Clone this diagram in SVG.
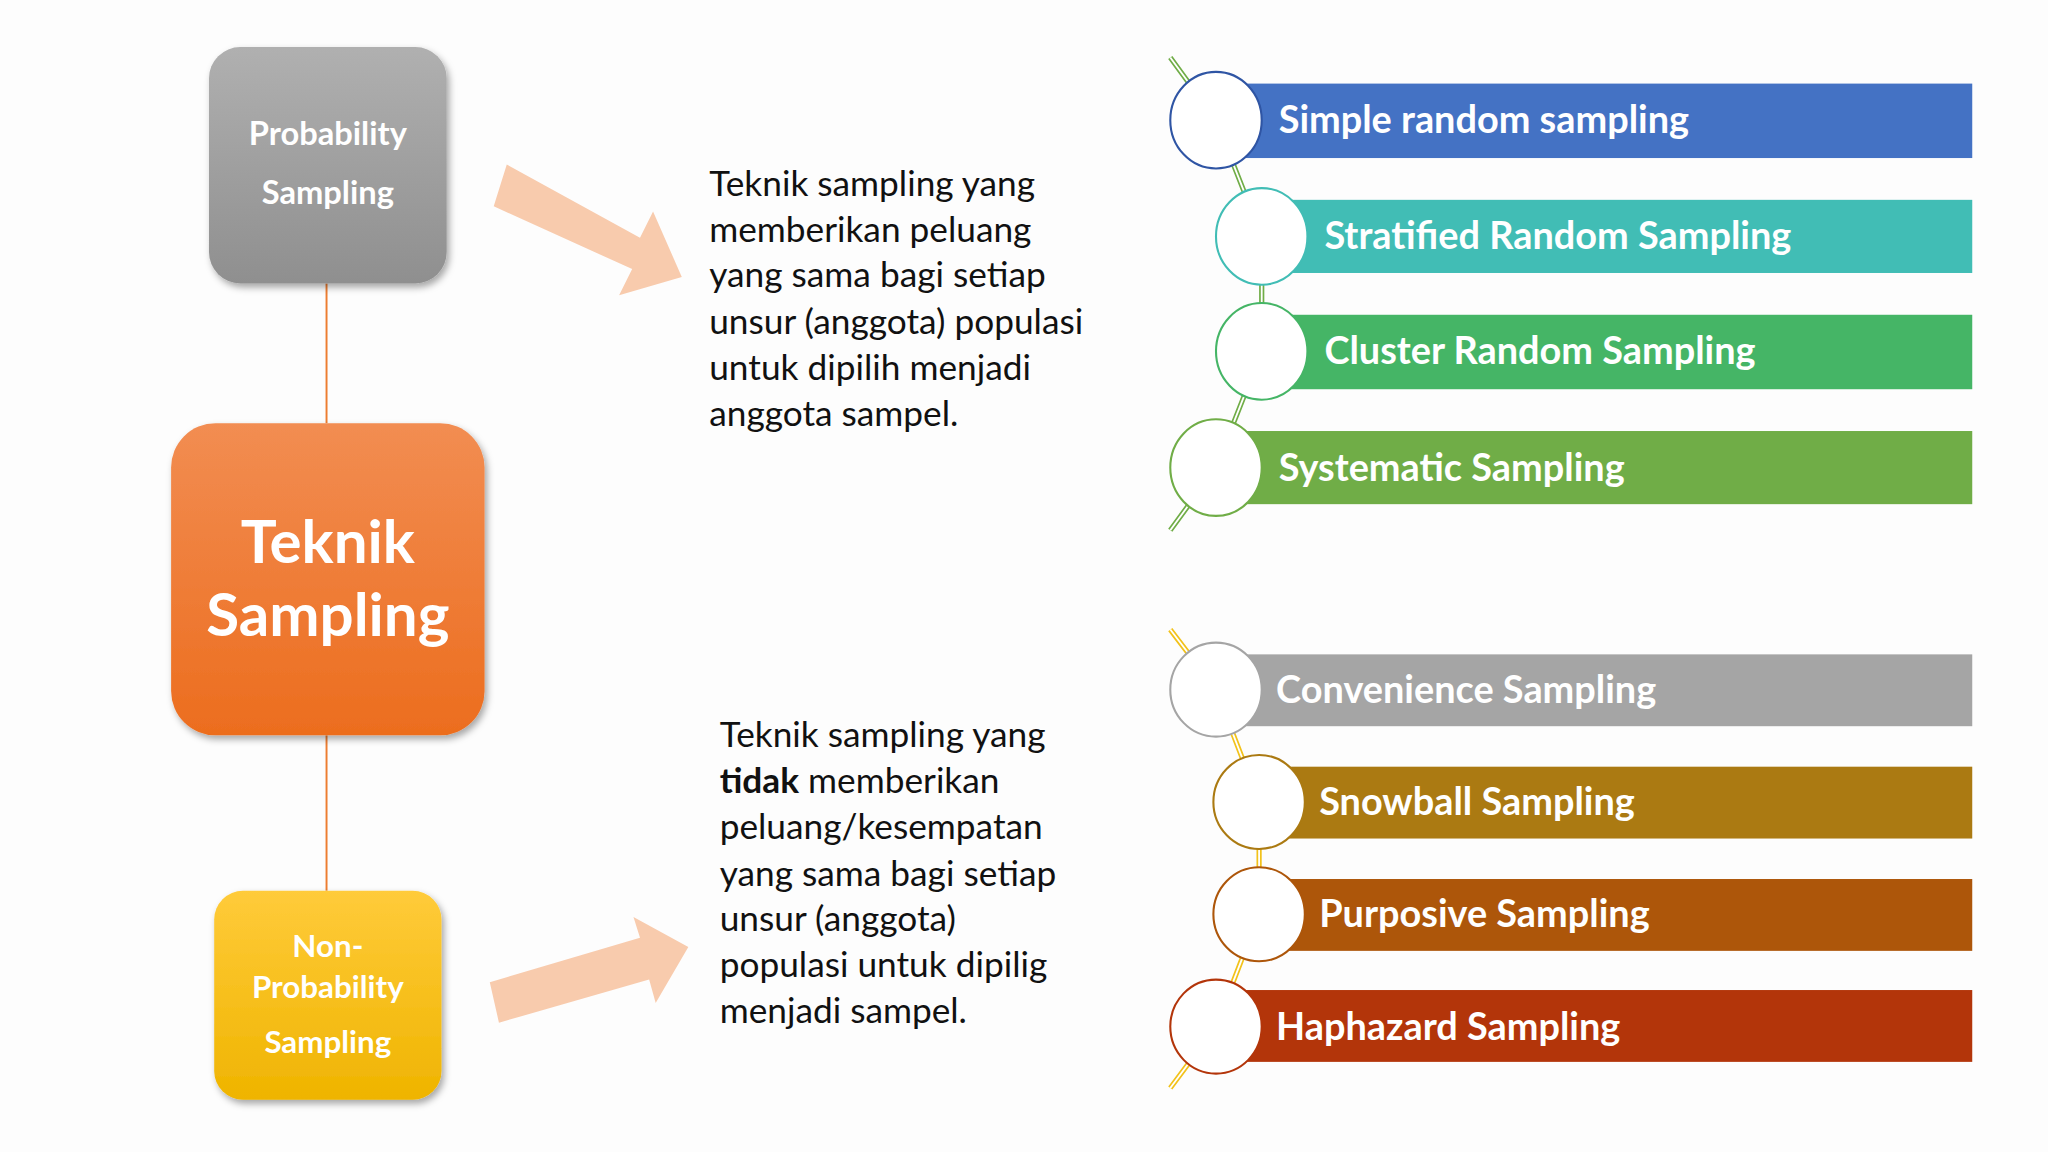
<svg xmlns="http://www.w3.org/2000/svg" width="2048" height="1152" viewBox="0 0 2048 1152">
<defs>
<linearGradient id="gGray" x1="0" y1="0" x2="0" y2="1"><stop offset="0" stop-color="#b0b0b0"/><stop offset="1" stop-color="#8f8f8f"/></linearGradient>
<linearGradient id="gOr" x1="0" y1="0" x2="0" y2="1"><stop offset="0" stop-color="#f28d52"/><stop offset="1" stop-color="#ec6d1e"/></linearGradient>
<linearGradient id="gYe" x1="0" y1="0" x2="0" y2="1"><stop offset="0" stop-color="#ffcb3a"/><stop offset="1" stop-color="#efb400"/></linearGradient>
<filter id="sh" x="-10%" y="-10%" width="130%" height="130%"><feDropShadow dx="2" dy="3" stdDeviation="3" flood-opacity="0.35"/></filter>
</defs>
<style>
.bt{font-family:Lato,"Open Sans",sans-serif;font-weight:bold;fill:#fff;text-anchor:middle}
.bar{font-family:Lato,"Open Sans",sans-serif;font-weight:bold;fill:#fff;font-size:29px}
.para{font-family:Lato,"Open Sans",sans-serif;fill:#111;font-size:27px}
.circ{fill:#fff;stroke-width:1.6}
</style>
<rect width="2048" height="1152" fill="#fdfdfd"/>
<g transform="scale(1.30612)">
<g id="connectors">
<line x1="250" y1="217" x2="250" y2="324" stroke="#ed7d31" stroke-width="1.5"/>
<line x1="250" y1="563" x2="250" y2="682" stroke="#ed7d31" stroke-width="1.5"/>
<polygon points="388,126 490,182 500,162 522,212 474,226 484,206 378,158" fill="#f8cbad"/>
<polygon points="375,752 490,718 485,702 527,725 502,768 497,750 382,783" fill="#f8cbad"/>
<polyline points="896,44 931,92 966,181 966,269 931,358 896,406" fill="none" stroke="#70ad47" stroke-width="4"/>
<polyline points="896,44 931,92 966,181 966,269 931,358 896,406" fill="none" stroke="#fff" stroke-width="1.4"/>
<polyline points="896,482 931,528 964,614 964,700 931,786 896,833" fill="none" stroke="#f2c21a" stroke-width="4"/>
<polyline points="896,482 931,528 964,614 964,700 931,786 896,833" fill="none" stroke="#fff" stroke-width="1.4"/>
</g>
<g id="prob"><rect x="160" y="36" width="182" height="181" rx="24" fill="url(#gGray)" filter="url(#sh)"/>
<text class="bt" x="251" y="111" font-size="25">Probability</text><text class="bt" x="251" y="156" font-size="25">Sampling</text></g>
<g id="teknik"><rect x="131" y="324" width="240" height="239" rx="34" fill="url(#gOr)" filter="url(#sh)"/>
<text class="bt" x="251" y="431" font-size="46">Teknik</text><text class="bt" x="251" y="487" font-size="46">Sampling</text></g>
<g id="nonprob"><rect x="164" y="682" width="174" height="160" rx="22" fill="url(#gYe)" filter="url(#sh)"/>
<text class="bt" x="251" y="733" font-size="24">Non-</text><text class="bt" x="251" y="764" font-size="24">Probability</text><text class="bt" x="251" y="806" font-size="24">Sampling</text></g>
<g id="text1"><text class="para" x="543" y="150">Teknik sampling yang</text><text class="para" x="543" y="185">memberikan peluang</text><text class="para" x="543" y="220">yang sama bagi setiap</text><text class="para" x="543" y="256">unsur (anggota) populasi</text><text class="para" x="543" y="291">untuk dipilih menjadi</text><text class="para" x="543" y="326">anggota sampel.</text></g>
<g id="text2"><text class="para" x="551" y="572">Teknik sampling yang</text><text class="para" x="551" y="607"><tspan font-weight="bold">tidak</tspan> memberikan</text><text class="para" x="551" y="642">peluang/kesempatan</text><text class="para" x="551" y="678">yang sama bagi setiap</text><text class="para" x="551" y="713">unsur (anggota)</text><text class="para" x="551" y="748">populasi untuk dipilig</text><text class="para" x="551" y="783">menjadi sampel.</text></g>
<g id="i1"><rect x="931" y="64" width="579" height="57" fill="#4472c4"/><ellipse class="circ" cx="931" cy="92" rx="35" ry="37" stroke="#2f55a4"/><text class="bar" x="979" y="102">Simple random sampling</text></g>
<g id="i2"><rect x="966" y="153" width="544" height="56" fill="#41bdb5"/><ellipse class="circ" cx="966" cy="181" rx="35" ry="37" stroke="#41bdb5"/><text class="bar" x="1014" y="191">Stratified Random Sampling</text></g>
<g id="i3"><rect x="966" y="241" width="544" height="57" fill="#45b566"/><ellipse class="circ" cx="966" cy="269" rx="35" ry="37" stroke="#45b566"/><text class="bar" x="1014" y="279">Cluster Random Sampling</text></g>
<g id="i4"><rect x="931" y="330" width="579" height="56" fill="#70ad47"/><ellipse class="circ" cx="931" cy="358" rx="35" ry="37" stroke="#70ad47"/><text class="bar" x="979" y="368">Systematic Sampling</text></g>
<g id="i5"><rect x="931" y="501" width="579" height="55" fill="#a5a5a5"/><ellipse class="circ" cx="931" cy="528" rx="35" ry="36" stroke="#a5a5a5"/><text class="bar" x="977" y="538">Convenience Sampling</text></g>
<g id="i6"><rect x="964" y="587" width="546" height="55" fill="#ab7a12"/><ellipse class="circ" cx="964" cy="614" rx="35" ry="36" stroke="#ab7a12"/><text class="bar" x="1010" y="624">Snowball Sampling</text></g>
<g id="i7"><rect x="964" y="673" width="546" height="55" fill="#ad560a"/><ellipse class="circ" cx="964" cy="700" rx="35" ry="36" stroke="#ad560a"/><text class="bar" x="1010" y="710">Purposive Sampling</text></g>
<g id="i8"><rect x="931" y="758" width="579" height="55" fill="#b3350a"/><ellipse class="circ" cx="931" cy="786" rx="35" ry="36" stroke="#b3350a"/><text class="bar" x="977" y="796">Haphazard Sampling</text></g>
</g>
</svg>
